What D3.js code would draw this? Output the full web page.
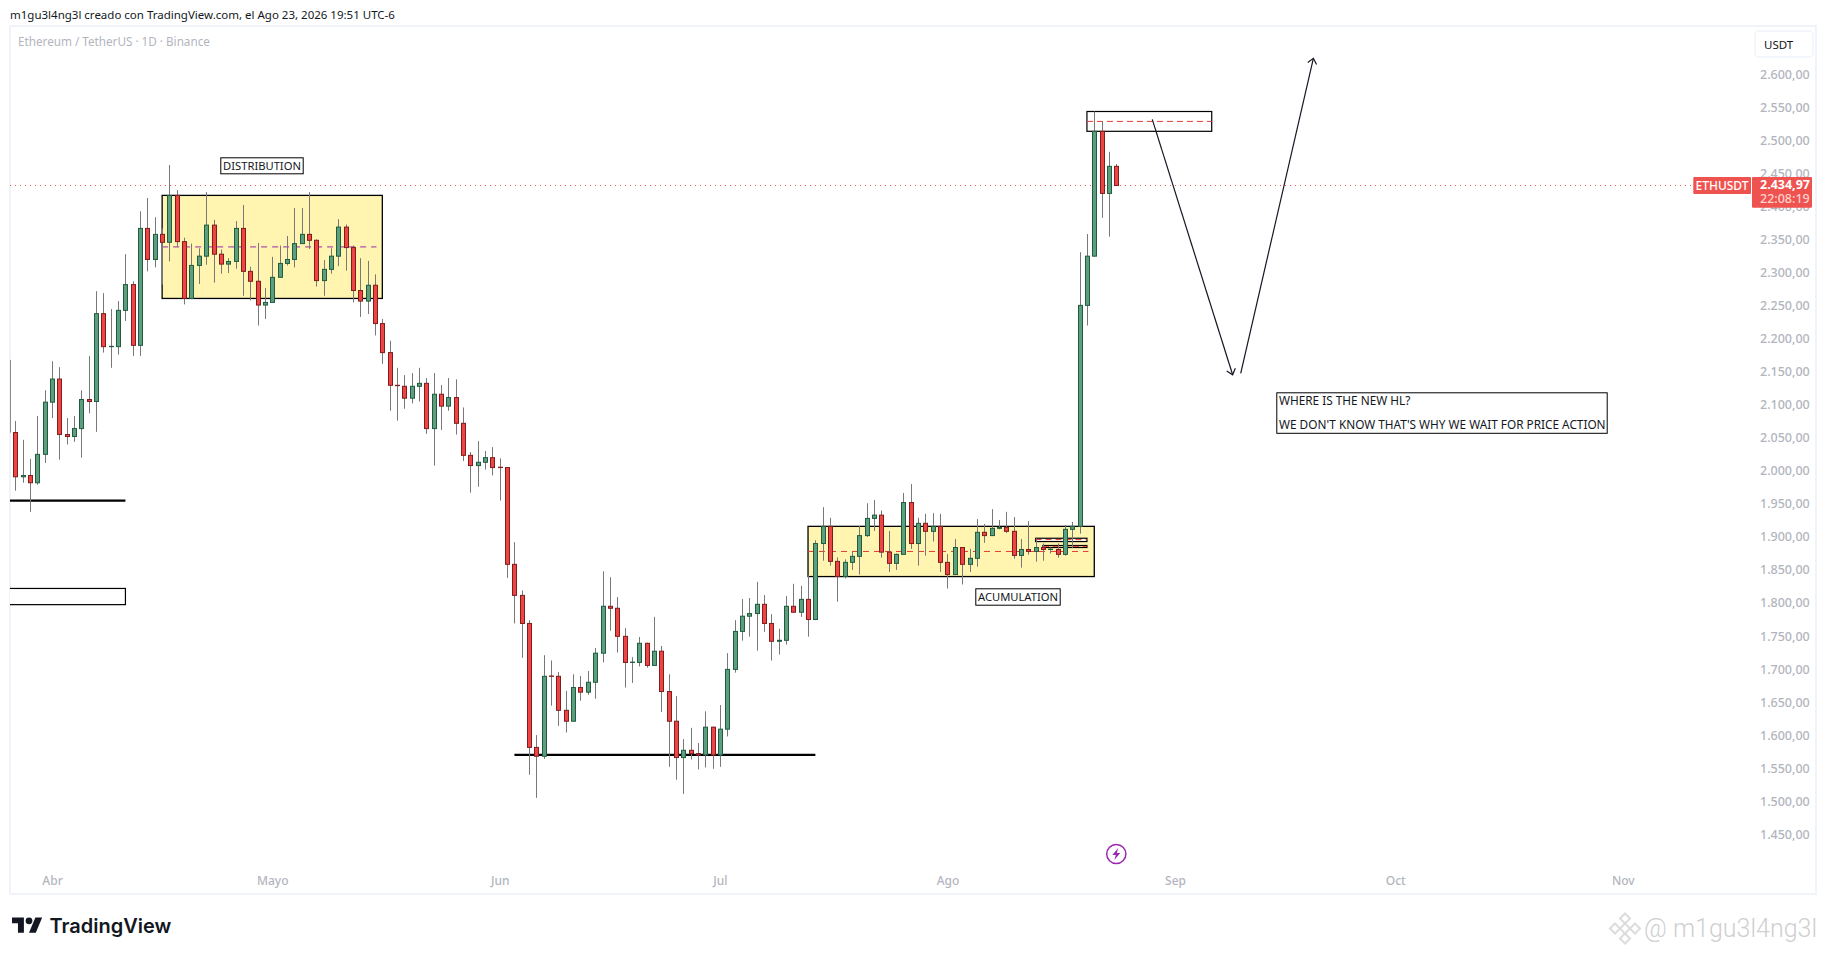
<!DOCTYPE html>
<html>
<head>
    <meta charset="utf-8">
    <title>ETHUSDT 1D</title>
    <script src="https://d3js.org/d3.v7.min.js"></script>
    <style>
        html, body { margin: 0; padding: 0; background: #fff; }
        svg { display: block; }
        text { font-family: "Noto Sans", sans-serif; }
    </style>
</head>
<body>
    <div id="chart"></div>

    <script>
        // daily candles (USDT)
        const opens = [2058,1991,1993,1982,2025,2104,2139,2055,2052,2064,
            2108,2105,2238,2188,2188,2243,2282,2190,2367,2320,
            2358,2346,2417,2347,2261,2311,2325,2372,2328,2313,
            2317,2367,2302,2287,2251,2255,2293,2314,2320,2344,
            2358,2349,2288,2305,2325,2369,2338,2273,2257,2281,
            2223,2179,2129.5,2128,2110,2128,
            2132.5,2064,2116,2098,2111,2072,2023.5,2008,2013,2020,
            2005.5,2005,1858.5,1811.5,1769,1581.4,1568,1689.5,1689,1637.5,
            1621,1672,1665,1680,1724,1795,1792,1749.5,1710,1710,
            1739,1705.5,1727,1666,1621,1566,1577,1572,1570,1612,
            1570,1609,1699.5,1757,1780,1784,1798,1769,1742,1743.5,
            1795,1786,1805.5,1775,
            1890,1916,1863,1840,1861.5,1870.6,1902,1928,1933,1877,
            1860,1873.6,1952,1890,1920.6,1908.5,1916,1861.5,1843,1884,
            1858.5,1867.6,1907,1902,1913,1914.5,1908.5,1872,1881,1878,
            1884,1881,1881,1873.6,1911.5,1916,2250.5,2325,2514,2420,2461];
        const closes = [1991,1993,1982,2025,2104,2139,2055,2052,2064,2108,
            2105,2238,2188,2188.5,2243,2282,2190,2367,2320,2358,
            2346,2417,2347,2261,2311,2325,2372,2328,2313,2317,
            2367,2302,2287,2251,2255,2293,2314,2320,2344,2358,
            2349,2288,2305,2325,2369,2338,2273,2257,2281,2223,
            2179,2129.5,2129,2110,2128,2132.5,
            2064,2116,2098,2111,2072,2023.5,2008,2013,2020,2005,
            2005,1858.5,1811.5,1769,1581.4,1568,1689,1689,1637.5,1621,
            1672,1665,1680,1724,1795,1792,1749.5,1710,1710.5,1739,
            1705.5,1727,1666,1621,1566,1577,1572,1570,1612,1570,
            1609,1699.5,1757,1780,1784,1798,1769,1742,1743.5,1795,
            1786,1805.5,1775,1890,
            1916,1863,1840,1861.5,1870.6,1902,1928,1933,1877,1860,
            1873.6,1952,1890,1920.6,1908.5,1916,1861.5,1843,1884,1858.5,
            1867.6,1907,1902,1913,1914.5,1908.5,1872,1881,1878,1884,
            1881,1881.5,1873.6,1911.5,1916,2250.5,2325,2514,2420,2461,2432];
        const highs = [2075.5,2047,2018,2083,2122,2166,2157,2080,2083,2122,
            2174,2272,2269,2245,2257,2328,2287,2393,2413,2384,
            2367,2463,2425,2353,2344,2337,2422,2380,2335,2322,
            2378,2402.5,2309,2345,2277,2324,2341,2355.5,2398,2398,
            2422,2350.5,2319,2337,2381,2373,2341,2322,2318,2297.5,
            2230,2197,2156,2145,2148,2156,
            2140.5,2148,2130,2140.5,2138.5,2096,2028.5,2045,2030,2036,
            2019,2005,1892,1819,1774,1600,1721,1713,1695.5,1667,
            1692,1689.5,1697,1732,1848,1839,1809,1762,1718,1748.5,
            1740,1779,1735,1692,1659,1594,1611,1588,1636,1613,
            1645.5,1724,1774,1806,1807.5,1832,1812,1783,1761,1810.5,
            1829,1826,1842,1895,
            1945,1929,1869,1866,1878,1916.5,1951,1956,1940,1909,
            1875,1966.5,1980,1929,1935,1936,1935,1874,1897,1884,
            1882,1927,1919.6,1942,1925.6,1938,1930,1897,1924,1898,
            1890,1884,1890,1918,1922.6,2331,2358.5,2544,2529,2483,2464.5];
        const lows = [1970,1982,1938,1979,2012,2080,2017,2040,2044,2020,
            2087,2059,2179,2156,2176,2227,2174,2174,2302,2308,
            2282,2317,2339,2252,2260,2283,2312,2285,2298.5,2299.5,
            2306,2265,2258,2220,2230,2255,2293,2311,2308,2344,
            2336,2279,2265,2298.5,2310,2303,2255,2233,2237.5,2205,
            2162,2091,2076,2094,2102,2105,
            2056,2008,2062,2091,2055,2015,1967,1976,2002,1993,
            1955,1838,1769,1717,1540,1505,1564,1644.5,1614,1604,
            1621,1652,1661,1655,1710,1758,1725,1672,1679,1704,
            1702,1705.5,1635,1552,1532.5,1511,1563,1548,1551,1549,
            1552,1598,1694.5,1743,1749,1728,1756.5,1713,1722,1737,
            1786,1779,1749,1774,
            1864,1856.5,1802,1837,1850,1843,1900,1909,1868.6,1847,
            1850,1873.6,1882,1856.5,1871.6,1893,1847,1822,1843,1828,
            1847,1855,1891,1902,1911.5,1906,1867,1853.5,1873,1862.5,
            1864,1875,1868.6,1871.6,1883,1905,2220,2325,2383,2354.5,2432];

        // wick of the candle cut by the left edge
        const edgeWick = {bar: -0.68, high: 2168, low: 2058};

        const priceTicks = [2600,2550,2500,2450,2400,2350,2300,2250,2200,2150,2100,2050,
            2000,1950,1900,1850,1800,1750,1700,1650,1600,1550,1500,1450];
        const monthBars = [5,35,66,96,127,158,188,219];
        const monthLabels = ["Abr","Mayo","Jun","Jul","Ago","Sep","Oct","Nov"];

        // yellow ranges: first bar, last bar, top, bottom, mid line
        const ranges = [
            {x0: 20, x1: 50, top: 2417, bottom: 2261, mid: 2339, midEnd: 49.2},
            {x0: 108, x1: 147, top: 1916, bottom: 1840, mid: 1878, midEnd: 146.2}
        ];
        // thin boxes with a red dashed line
        const zones = [
            {x0: 146, x1: 163, top: 2544, bottom: 2514, mid: 2529},
            {x0: 139, x1: 146, top: 1898, bottom: 1893, mid: 1896},
            {x0: 140, x1: 146, top: 1887, bottom: 1884, mid: 1885.7}
        ];
        const plainBoxes = [{x0: -1, x1: 15, top: 1822, bottom: 1797.5}];
        const levels = [
            {x0: -1, x1: 15, price: 1955},
            {x0: 68, x1: 109, price: 1570}
        ];
        const arrows = [
            {x0: 154.9, y0: 2532, x1: 165.85, y1: 2145.5},
            {x0: 166.95, y0: 2147.7, x1: 176.85, y1: 2624.5}
        ];
        const priceLine = 2432;

        const W = 1827, H = 954;
        const frame = {left: 10, right: 1816, top: 26, bottom: 894};
        const green = "#5c9e7e", greenDark = "#1f5c40";
        const red = "#ef4444", redDark = "#7f1d1d";
        const greyText = "#b2b5be";
        const rangeMidColors = ["#9c27b0", "#e53935"];
        const zoneFills = ["#fff", "#fff", "#fff5b1"];

        const x = d3.scaleLinear().domain([0, 150]).range([15.33, 1116.3]);
        const y = d3.scaleLinear().domain([2600, 1450]).range([74.5, 834.2]);

        const esLocale = d3.formatLocale({decimal: ",", thousands: ".", grouping: [3], currency: ["", ""]});
        const priceFormat = esLocale.format(",.2f");

        const svg = d3.select("#chart").append("svg")
            .attr("width", W)
            .attr("height", H);

        svg.append("rect").attr("width", W).attr("height", H).attr("fill", "#fff");

        svg.append("defs").append("clipPath").attr("id", "pane")
            .append("rect")
            .attr("x", frame.left).attr("y", frame.top)
            .attr("width", 1750 - frame.left)
            .attr("height", frame.bottom - frame.top);

        // outer frame
        svg.append("rect")
            .attr("x", frame.left).attr("y", frame.top)
            .attr("width", frame.right - frame.left)
            .attr("height", frame.bottom - frame.top)
            .attr("fill", "none")
            .attr("stroke", "#f0f3fa")
            .attr("stroke-width", 2);

        svg.append("text")
            .attr("x", 10).attr("y", 19)
            .attr("font-size", 11.5)
            .attr("fill", "#131722")
            .text("m1gu3l4ng3l creado con TradingView.com, el Ago 23, 2026 19:51 UTC-6");

        svg.append("text")
            .attr("x", 18).attr("y", 46)
            .attr("font-size", 11.7)
            .attr("fill", greyText)
            .text("Ethereum / TetherUS · 1D · Binance");

        const pane = svg.append("g").attr("clip-path", "url(#pane)");

        // last price line
        pane.append("line")
            .attr("x1", frame.left).attr("x2", 1693)
            .attr("y1", y(priceLine)).attr("y2", y(priceLine))
            .attr("stroke", "#ef5350")
            .attr("stroke-dasharray", "1 4");

        // ranges
        pane.selectAll(".range").data(ranges).enter().append("rect")
            .attr("class", "range")
            .attr("x", d => x(d.x0))
            .attr("y", d => y(d.top))
            .attr("width", d => x(d.x1) - x(d.x0))
            .attr("height", d => y(d.bottom) - y(d.top))
            .attr("fill", "#fff5b1")
            .attr("stroke", "#000")
            .attr("stroke-width", 1.3);

        pane.selectAll(".range-mid").data(ranges).enter().append("line")
            .attr("class", "range-mid")
            .attr("x1", d => x(d.x0)).attr("x2", d => x(d.midEnd))
            .attr("y1", d => y(d.mid)).attr("y2", d => y(d.mid))
            .attr("stroke", (d, i) => rangeMidColors[i])
            .attr("stroke-dasharray", "6 5");

        pane.selectAll(".zone").data(zones).enter().append("rect")
            .attr("class", "zone")
            .attr("x", d => x(d.x0))
            .attr("y", d => y(d.top))
            .attr("width", d => x(d.x1) - x(d.x0))
            .attr("height", d => y(d.bottom) - y(d.top))
            .attr("fill", (d, i) => zoneFills[i])
            .attr("stroke", "#000")
            .attr("stroke-width", 1.2);

        pane.selectAll(".zone-mid").data(zones).enter().append("line")
            .attr("class", "zone-mid")
            .attr("x1", d => x(d.x0)).attr("x2", d => x(d.x1))
            .attr("y1", d => y(d.mid)).attr("y2", d => y(d.mid))
            .attr("stroke", "#e53935")
            .attr("stroke-dasharray", "6 4");

        pane.selectAll(".plain").data(plainBoxes).enter().append("rect")
            .attr("class", "plain")
            .attr("x", d => x(d.x0))
            .attr("y", d => y(d.top))
            .attr("width", d => x(d.x1) - x(d.x0))
            .attr("height", d => y(d.bottom) - y(d.top))
            .attr("fill", "#fff")
            .attr("stroke", "#000")
            .attr("stroke-width", 1.2);

        pane.selectAll(".level").data(levels).enter().append("line")
            .attr("class", "level")
            .attr("x1", d => x(d.x0)).attr("x2", d => x(d.x1))
            .attr("y1", d => y(d.price)).attr("y2", d => y(d.price))
            .attr("stroke", "#000")
            .attr("stroke-width", 2.2);

        // candles
        const bars = opens.map((o, i) => ({i, o, c: closes[i], h: highs[i], l: lows[i]}));

        pane.append("line")
            .attr("x1", x(edgeWick.bar)).attr("x2", x(edgeWick.bar))
            .attr("y1", y(edgeWick.high)).attr("y2", y(edgeWick.low))
            .attr("stroke", "#787878");

        pane.selectAll(".wick").data(bars).enter().append("line")
            .attr("class", "wick")
            .attr("x1", d => Math.round(x(d.i)) + 0.5)
            .attr("x2", d => Math.round(x(d.i)) + 0.5)
            .attr("y1", d => y(d.h))
            .attr("y2", d => y(d.l))
            .attr("stroke", "#787878");

        pane.selectAll(".body").data(bars).enter().append("rect")
            .attr("class", "body")
            .attr("x", d => Math.round(x(d.i)) - 1.5)
            .attr("width", 4)
            .attr("y", d => y(Math.max(d.o, d.c)))
            .attr("height", d => Math.abs(y(d.o) - y(d.c)))
            .attr("fill", d => d.c >= d.o ? green : red)
            .attr("stroke", d => d.c >= d.o ? greenDark : redDark);

        // arrows
        const arrowLine = pane.selectAll(".arrow").data(arrows).enter().append("g").attr("class", "arrow");
        arrowLine.append("line")
            .attr("x1", d => x(d.x0)).attr("y1", d => y(d.y0))
            .attr("x2", d => x(d.x1)).attr("y2", d => y(d.y1))
            .attr("stroke", "#131722")
            .attr("stroke-width", 1.2);
        arrowLine.append("path")
            .attr("fill", "none")
            .attr("stroke", "#131722")
            .attr("stroke-width", 1.2)
            .attr("d", d => {
                const a = Math.atan2(y(d.y1) - y(d.y0), x(d.x1) - x(d.x0));
                const tx = x(d.x1), ty = y(d.y1), len = 7, spread = 0.7;
                return `M${tx - len * Math.cos(a - spread)},${ty - len * Math.sin(a - spread)}L${tx},${ty}` +
                    `L${tx - len * Math.cos(a + spread)},${ty - len * Math.sin(a + spread)}`;
            });

        // labels on the chart
        const labels = [
            {text: "DISTRIBUTION", x: 220.3, y: 157.3, w: 83.4, h: 17},
            {text: "ACUMULATION", x: 975.3, y: 588.3, w: 85.4, h: 17.4}
        ];
        const label = svg.selectAll(".label").data(labels).enter().append("g").attr("class", "label");
        label.append("rect")
            .attr("x", d => d.x + 0.5).attr("y", d => d.y + 0.5)
            .attr("width", d => d.w - 1).attr("height", d => d.h - 1)
            .attr("fill", "#fff").attr("stroke", "#000");
        label.append("text")
            .attr("x", d => d.x + d.w / 2)
            .attr("y", d => d.y + d.h / 2)
            .attr("dy", ".36em")
            .attr("text-anchor", "middle")
            .attr("font-size", 11.2)
            .attr("fill", "#131722")
            .text(d => d.text);

        svg.append("rect")
            .attr("x", 1276.8).attr("y", 392.8)
            .attr("width", 330.4).attr("height", 40.5)
            .attr("fill", "#fff").attr("stroke", "#000");
        const noteLines = ["WHERE IS THE NEW HL?", "WE DON'T KNOW THAT'S WHY WE WAIT FOR PRICE ACTION"];
        svg.selectAll(".note").data(noteLines).enter().append("text")
            .attr("class", "note")
            .attr("x", 1279)
            .attr("y", (d, i) => 405 + i * 23.6)
            .attr("font-size", 11.8)
            .attr("fill", "#131722")
            .text(d => d);

        // axes
        const yAxis = svg.append("g")
            .attr("transform", "translate(1760,0)")
            .call(d3.axisRight(y).tickValues(priceTicks).tickFormat(priceFormat).tickSize(0).tickPadding(0));
        yAxis.select(".domain").remove();
        yAxis.selectAll("text")
            .attr("font-size", 12.5)
            .attr("font-weight", 500)
            .style("font-family", '"Noto Sans"')
            .attr("fill", greyText);

        const xAxis = svg.append("g")
            .attr("transform", "translate(0,876)")
            .call(d3.axisBottom(x).tickValues(monthBars).tickFormat((d, i) => monthLabels[i]).tickSize(0).tickPadding(0));
        xAxis.select(".domain").remove();
        xAxis.selectAll("text")
            .attr("font-size", 12)
            .attr("font-weight", 500)
            .style("font-family", '"Noto Sans"')
            .attr("fill", greyText);

        // currency button
        svg.append("rect")
            .attr("x", 1755).attr("y", 31)
            .attr("width", 58).attr("height", 26)
            .attr("rx", 4)
            .attr("fill", "#fff").attr("stroke", "#f0f3fa").attr("stroke-width", 1.5);
        svg.append("text")
            .attr("x", 1764).attr("y", 48.5)
            .attr("font-size", 11.5)
            .attr("fill", "#131722")
            .text("USDT");

        // price badges
        svg.append("rect")
            .attr("x", 1693.3).attr("y", 177).attr("width", 57.7).attr("height", 17)
            .attr("rx", 1).attr("fill", "#ef5350");
        svg.append("text")
            .attr("x", 1722).attr("y", 185.6).attr("dy", ".36em")
            .attr("text-anchor", "middle")
            .attr("font-size", 12)
            .attr("font-weight", 500)
            .attr("fill", "#fff")
            .text("ETHUSDT");
        svg.append("rect")
            .attr("x", 1752).attr("y", 177).attr("width", 60).attr("height", 30.7)
            .attr("rx", 1).attr("fill", "#ef5350");
        svg.append("text")
            .attr("x", 1760).attr("y", 189.2)
            .attr("font-size", 12.5)
            .attr("font-weight", "bold")
            .attr("fill", "#fff")
            .text("2.434,97");
        svg.append("text")
            .attr("x", 1760).attr("y", 203)
            .attr("font-size", 12.5)
            .attr("font-weight", 500)
            .attr("fill", "#ffd2cf")
            .text("22:08:19");

        // lightning marker under the last bar
        const bolt = svg.append("g").attr("transform", `translate(${x(150)},854)`);
        bolt.append("circle").attr("r", 9.6).attr("fill", "#fff").attr("stroke", "#9c27b0").attr("stroke-width", 1.5);
        bolt.append("path").attr("d", "M2,-6L-4,1H-0.5L-2,6L4,-1H0.5Z").attr("fill", "#9c27b0");

        // logo
        const logo = svg.append("g").attr("transform", "translate(12,914) scale(0.85)");
        logo.append("path").attr("d", "M14 22H7V11H0V4h14v18zM28 22h-8l7.5-18h8L28 22z").attr("fill", "#131722");
        logo.append("circle").attr("cx", 20).attr("cy", 8).attr("r", 4).attr("fill", "#131722");
        svg.append("text")
            .attr("x", 49.5).attr("y", 932.5)
            .attr("font-size", 20)
            .attr("font-weight", 600)
            .style("font-family", "Inter")
            .attr("fill", "#131722")
            .text("TradingView");

        // watermark
        const mark = svg.append("g")
            .attr("transform", "translate(1625,928.5)")
            .attr("fill", "none")
            .attr("stroke", "#dcdcdc")
            .attr("stroke-width", 2);
        [[0, -10], [-10, 0], [10, 0], [0, 10], [0, 0]].forEach(p => {
            mark.append("path").attr("d", `M${p[0]},${p[1] - 5}l5,5l-5,5l-5,-5z`);
        });
        svg.append("text")
            .attr("x", 1644).attr("y", 937)
            .attr("font-size", 25)
            .attr("font-weight", 300)
            .style("font-family", "Roboto")
            .attr("fill", "#cfcfcf")
            .text("@ m1gu3l4ng3l");
    </script>
</body>
</html>
